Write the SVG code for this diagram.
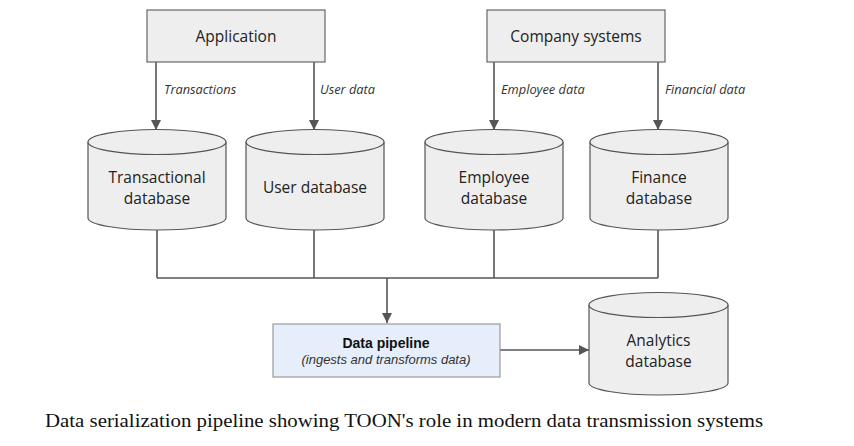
<svg xmlns="http://www.w3.org/2000/svg" width="854" height="446" viewBox="0 0 854 446">
<defs>
<marker id="arr" viewBox="0 0 10 10" refX="10" refY="5" markerWidth="10" markerHeight="10" markerUnits="userSpaceOnUse" orient="auto">
<path d="M0,0 L10,5 L0,10 z" fill="#555"/>
</marker>
<style>
.box{fill:#eeeeee;stroke:#666;stroke-width:1.2}
.pipe{fill:#e5eefa;stroke:#999;stroke-width:1.2}
.cyl{fill:#eeeeee;stroke:#555;stroke-width:1.2}
.t{font-family:"Open Sans","Noto Sans",sans-serif;font-size:15.5px;fill:#222;text-anchor:middle}
.lbl{font-family:"Open Sans","Noto Sans",sans-serif;font-size:12.8px;font-style:italic;fill:#333}
.ln{fill:none;stroke:#555;stroke-width:1.6}
.pb{font-family:"Liberation Sans",Arial,sans-serif;font-size:14px;font-weight:bold;fill:#111;text-anchor:middle}
.pi{font-family:"Liberation Sans",Arial,sans-serif;font-size:13px;font-style:italic;fill:#333;text-anchor:middle}
.cap{font-family:"Liberation Serif","Times New Roman",serif;font-size:19px;fill:#111}
</style>
</defs>
<rect width="854" height="446" fill="#fff"/>

<g id="connectors">
<line class="ln" x1="156" y1="62" x2="156" y2="130" marker-end="url(#arr)"/>
<line class="ln" x1="314" y1="62" x2="314" y2="130" marker-end="url(#arr)"/>
<line class="ln" x1="494" y1="62" x2="494" y2="130" marker-end="url(#arr)"/>
<line class="ln" x1="658" y1="62" x2="658" y2="130" marker-end="url(#arr)"/>
<text class="lbl" x="164" y="94">Transactions</text>
<text class="lbl" x="320" y="94">User data</text>
<text class="lbl" x="501" y="94">Employee data</text>
<text class="lbl" x="665" y="94">Financial data</text>
<path class="ln" d="M157,230 V278 M314,230 V278 M494,230 V278 M658,230 V278 M157,278 H658"/>
<line class="ln" x1="387" y1="278" x2="387" y2="323" marker-end="url(#arr)"/>
<line class="ln" x1="500" y1="350" x2="589" y2="350" marker-end="url(#arr)"/>
</g>

<g id="application">
<rect class="box" x="147" y="10" width="178" height="52"/>
<text class="t" x="236" y="42">Application</text>
</g>
<g id="company-systems">
<rect class="box" x="487" y="10" width="178" height="52"/>
<text class="t" x="576" y="42">Company systems</text>
</g>

<g id="transactional-db">
<path class="cyl" d="M88,142 A69,12.5 0 0 1 226,142 V218 A69,12 0 0 1 88,218 Z"/>
<path class="cyl" d="M88,142 A69,12.5 0 0 0 226,142" fill="none"/>
<text class="t" x="157" y="183">Transactional</text>
<text class="t" x="157" y="204">database</text>
</g>
<g id="user-db">
<path class="cyl" d="M246,142 A69,12.5 0 0 1 384,142 V218 A69,12 0 0 1 246,218 Z"/>
<path class="cyl" d="M246,142 A69,12.5 0 0 0 384,142" fill="none"/>
<text class="t" x="315" y="193">User database</text>
</g>
<g id="employee-db">
<path class="cyl" d="M425,142 A69,12.5 0 0 1 563,142 V218 A69,12 0 0 1 425,218 Z"/>
<path class="cyl" d="M425,142 A69,12.5 0 0 0 563,142" fill="none"/>
<text class="t" x="494" y="183">Employee</text>
<text class="t" x="494" y="204">database</text>
</g>
<g id="finance-db">
<path class="cyl" d="M590,142 A69,12.5 0 0 1 728,142 V218 A69,12 0 0 1 590,218 Z"/>
<path class="cyl" d="M590,142 A69,12.5 0 0 0 728,142" fill="none"/>
<text class="t" x="659" y="183">Finance</text>
<text class="t" x="659" y="204">database</text>
</g>

<g id="data-pipeline">
<rect class="pipe" x="273" y="324" width="227" height="53"/>
<text class="pb" x="386" y="348">Data pipeline</text>
<text class="pi" x="386" y="364">(ingests and transforms data)</text>
</g>

<g id="analytics-db">
<path class="cyl" d="M589,305 A69.5,12.5 0 0 1 728,305 V383 A69.5,12 0 0 1 589,383 Z"/>
<path class="cyl" d="M589,305 A69.5,12.5 0 0 0 728,305" fill="none"/>
<text class="t" x="658.5" y="346">Analytics</text>
<text class="t" x="658.5" y="367">database</text>
</g>

<text class="cap" x="45" y="427" textLength="718" lengthAdjust="spacingAndGlyphs">Data serialization pipeline showing TOON's role in modern data transmission systems</text>
</svg>
